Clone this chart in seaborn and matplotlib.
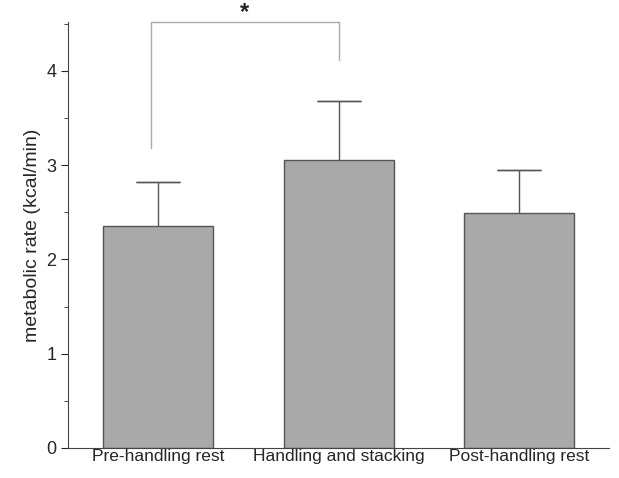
import matplotlib
matplotlib.use('Agg')
import matplotlib.pyplot as plt
import seaborn as sns
import pandas as pd

conditions = ['Pre-handling rest', 'Handling and stacking', 'Post-handling rest']
means = [2.35, 3.06, 2.49]
errors = [0.47, 0.62, 0.46]

sns.set_style('ticks')
plt.rcParams['font.family'] = ['Liberation Sans', 'DejaVu Sans']

fig = plt.figure(figsize=(6.19, 4.78), dpi=100)
ax = fig.add_axes([0.110, 0.063, 0.874, 0.891])

df = pd.DataFrame({'cond': conditions, 'rate': means})
sns.barplot(data=df, x='cond', y='rate', color='#a9a9a9', edgecolor='#555555',
            linewidth=1, width=0.61, saturation=1, errorbar=None, ax=ax)
ax.errorbar(range(3), [m + e for m, e in zip(means, errors)],
            yerr=[errors, [0] * 3], fmt='none', uplims=False,
            ecolor='#555555', elinewidth=1, capsize=0)
ax.errorbar(range(3), [m + e for m, e in zip(means, errors)], yerr=0,
            fmt='none', ecolor='#555555', elinewidth=1, capsize=16, capthick=1)

ax.set_xlim(-0.5, 2.5)
ax.set_ylim(0, 4.52)
ax.set_yticks([0, 1, 2, 3, 4])
ax.set_yticks([0.5, 1.5, 2.5, 3.5, 4.5], minor=True)
ax.tick_params(axis='y', labelsize=13, direction='out', length=5)
ax.tick_params(axis='y', which='minor', length=3)
ax.tick_params(axis='x', labelsize=12.5, length=0, pad=1)
ax.set_xlabel('')
ax.set_ylabel('metabolic rate (kcal/min)', fontsize=14)
sns.despine(ax=ax, right=True, top=True)
for s in ['left', 'bottom']:
    ax.spines[s].set_color('#444444')

# significance bracket
ax.plot([-0.04, -0.04, 1.0, 1.0], [3.18, 4.52, 4.52, 4.12],
        color='#aaaaaa', lw=1, clip_on=False)
ax.text(0.48, 4.5, '*', ha='center', va='bottom', fontsize=17,
        fontweight='bold', clip_on=False)

fig.savefig('out.png', dpi=100)
